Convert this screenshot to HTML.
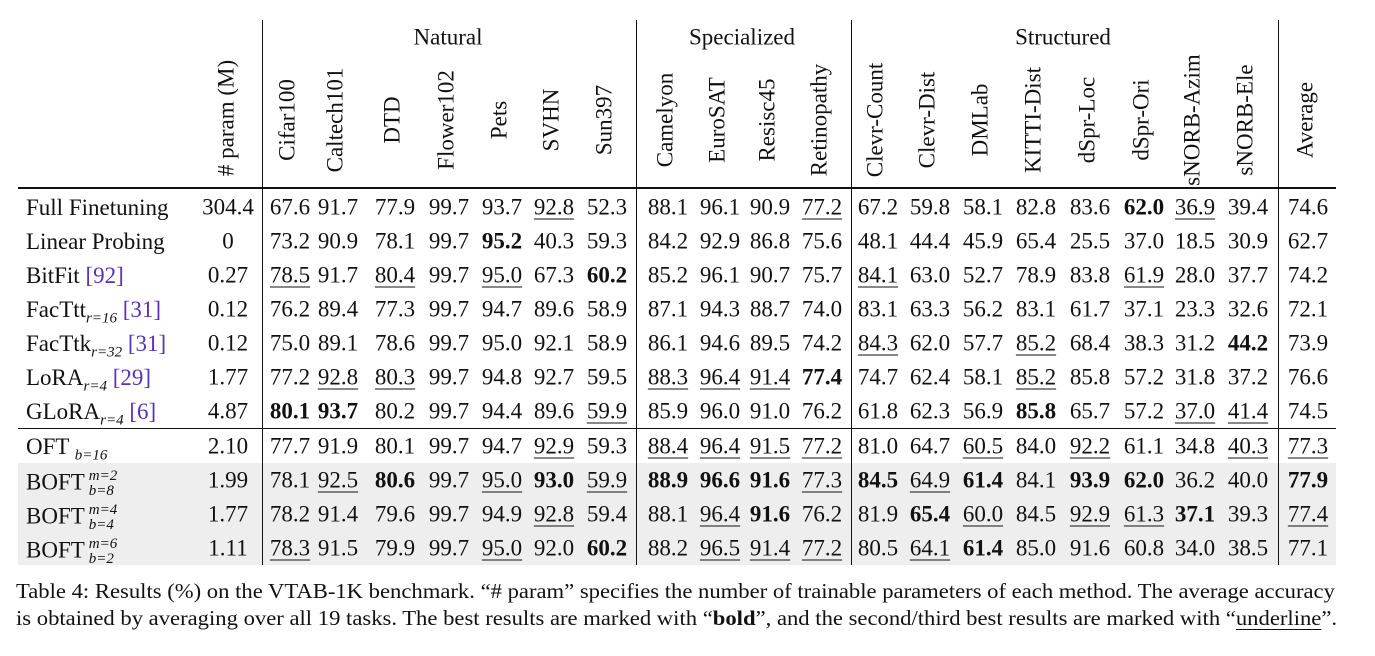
<!DOCTYPE html>
<html><head><meta charset="utf-8">
<style>
body{margin:0;width:1375px;height:656px;background:#fff;position:relative;overflow:hidden;font-family:"Liberation Serif",serif;color:#111}
.t{position:absolute;white-space:nowrap;font-size:23px;line-height:1}
.c{transform:translate(-50%,-50%)}
.u{text-decoration:underline;text-decoration-thickness:1px;text-underline-offset:4px}
.b{font-weight:bold}
.rot{position:absolute;white-space:nowrap;font-size:23px;line-height:1;transform:translate(-50%,-50%) rotate(-90deg)}
.cite{color:#5533bb}
.ln{position:absolute;background:#111}
sub,sup{font-size:15px;font-style:italic}
.stk{display:inline-block;vertical-align:middle;font-size:15px;font-style:italic;line-height:15px;margin-left:4px;text-align:left}
.cap{position:absolute;white-space:nowrap;font-size:21px;line-height:1;transform-origin:0 0;transform:scaleX(1.078)}
</style></head><body>
<div class="ln" style="left:18px;top:463px;width:1318px;height:102px;background:#eeeeee"></div>
<div class="ln" style="left:18px;top:187px;width:1318px;height:2px"></div>
<div class="ln" style="left:18px;top:428px;width:1318px;height:1px"></div>
<div id="tbl"></div>
<div class="cap" style="left:16px;top:581px">Table 4: Results (%) on the VTAB-1K benchmark. “# param” specifies the number of trainable parameters of each method. The average accuracy</div>
<div class="cap" style="left:16px;top:608px">is obtained by averaging over all 19 tasks. The best results are marked with “<b>bold</b>”, and the second/third best results are marked with “<span class="u">underline</span>”.</div>
<script>
const columns=["Cifar100","Caltech101","DTD","Flower102","Pets","SVHN","Sun397","Camelyon","EuroSAT","Resisc45","Retinopathy","Clevr-Count","Clevr-Dist","DMLab","KITTI-Dist","dSpr-Loc","dSpr-Ori","sNORB-Azim","sNORB-Ele","Average"];
const colX=[290,338,395,449,502,554,607,668,720,770,822,878,930,983,1036,1090,1144,1195,1248,1308];
const groups=[["Natural",448],["Specialized",742],["Structured",1063]];
const vlines=[262,636,851,1278];
const methods=['Full Finetuning','Linear Probing','BitFit <span class="cite">[92]</span>','FacTtt<sub>r=16</sub> <span class="cite">[31]</span>','FacTtk<sub>r=32</sub> <span class="cite">[31]</span>','LoRA<sub>r=4</sub> <span class="cite">[29]</span>','GLoRA<sub>r=4</sub> <span class="cite">[6]</span>','OFT <sub>b=16</sub>','BOFT<span class="stk">m=2<br>b=8</span>','BOFT<span class="stk">m=4<br>b=4</span>','BOFT<span class="stk">m=6<br>b=2</span>'];
const params=["304.4","0","0.27","0.12","0.12","1.77","4.87","2.10","1.99","1.77","1.11"];
const rowY=[207,241,275,309,343,377,411,446,480,514,548];
const values=[
"67.6 91.7 77.9 99.7 93.7 _92.8 52.3 88.1 96.1 90.9 _77.2 67.2 59.8 58.1 82.8 83.6 *62.0 _36.9 39.4 74.6",
"73.2 90.9 78.1 99.7 *95.2 40.3 59.3 84.2 92.9 86.8 75.6 48.1 44.4 45.9 65.4 25.5 37.0 18.5 30.9 62.7",
"_78.5 91.7 _80.4 99.7 _95.0 67.3 *60.2 85.2 96.1 90.7 75.7 _84.1 63.0 52.7 78.9 83.8 _61.9 28.0 37.7 74.2",
"76.2 89.4 77.3 99.7 94.7 89.6 58.9 87.1 94.3 88.7 74.0 83.1 63.3 56.2 83.1 61.7 37.1 23.3 32.6 72.1",
"75.0 89.1 78.6 99.7 95.0 92.1 58.9 86.1 94.6 89.5 74.2 _84.3 62.0 57.7 _85.2 68.4 38.3 31.2 *44.2 73.9",
"77.2 _92.8 _80.3 99.7 94.8 92.7 59.5 _88.3 _96.4 _91.4 *77.4 74.7 62.4 58.1 _85.2 85.8 57.2 31.8 37.2 76.6",
"*80.1 *93.7 80.2 99.7 94.4 89.6 _59.9 85.9 96.0 91.0 76.2 61.8 62.3 56.9 *85.8 65.7 57.2 _37.0 _41.4 74.5",
"77.7 91.9 80.1 99.7 94.7 _92.9 59.3 _88.4 _96.4 _91.5 _77.2 81.0 64.7 _60.5 84.0 _92.2 61.1 34.8 _40.3 _77.3",
"78.1 _92.5 *80.6 99.7 _95.0 *93.0 _59.9 *88.9 *96.6 *91.6 _77.3 *84.5 _64.9 *61.4 84.1 *93.9 *62.0 36.2 40.0 *77.9",
"78.2 91.4 79.6 99.7 94.9 _92.8 59.4 88.1 _96.4 *91.6 76.2 81.9 *65.4 _60.0 84.5 _92.9 _61.3 *37.1 39.3 _77.4",
"_78.3 91.5 79.9 99.7 _95.0 92.0 *60.2 88.2 _96.5 _91.4 _77.2 80.5 _64.1 *61.4 85.0 91.6 60.8 34.0 38.5 77.1"];
const T=document.getElementById('tbl');
function add(html,cls,x,y,name){const d=document.createElement('div');d.className=cls;d.innerHTML=html;d.style.left=x+'px';d.style.top=y+'px';


T.appendChild(d);return d;}
vlines.forEach((x,i)=>{const d=add('','ln',x,20,'column-divider');d.style.width='1px';d.style.height='545px';});
groups.forEach(g=>add(g[0],'t c',g[1],37,'group-header'));
add('# param (M)','rot',226,118,'param-header');
columns.forEach((c,i)=>add(c,'rot',colX[i]-3,120,'column-header'));
rowY.forEach((y,r)=>{
 add(methods[r],'t',26,y-11,'method-label');
 add(params[r],'t c',228,y,'param-value');
 values[r].split(' ').forEach((v,i)=>{let cls='t c';if(v[0]=='*'){cls+=' b';v=v.slice(1);}else if(v[0]=='_'){cls+=' u';v=v.slice(1);}
  add(v,cls,colX[i],y,'cell-value');});
});
</script>
</body></html>
